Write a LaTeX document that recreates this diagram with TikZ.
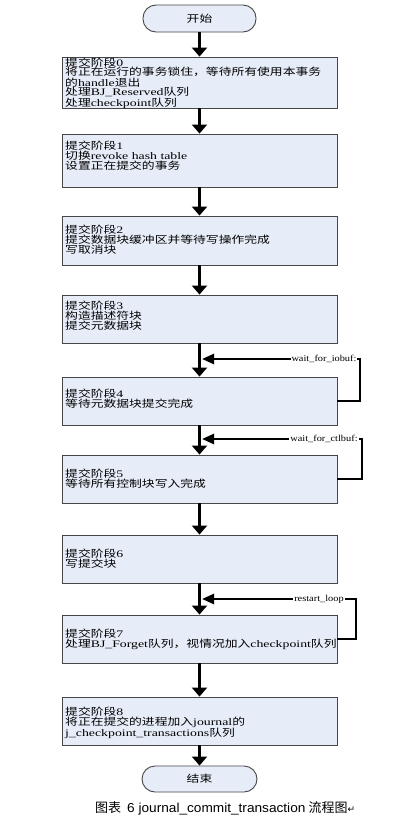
\documentclass[tikz,border=0pt]{standalone}
\usepackage{fontspec}
\setmainfont{Liberation Serif}
\newfontfamily\cjk[FakeStretch=1.28]{Noto Sans CJK SC}
\newfontfamily\lat[FakeStretch=1.38]{Liberation Serif}
\newfontfamily\lblfont[FakeStretch=1.15]{Liberation Serif}
\newfontfamily\capsans[FakeStretch=1.05]{Liberation Sans}
\newfontfamily\capcjk{Noto Sans CJK SC}
\newfontfamily\symfont{DejaVu Sans}
\usetikzlibrary{arrows.meta}
\definecolor{boxfill}{RGB}{231,237,248}
\definecolor{boxline}{RGB}{70,70,70}
\newcommand\lt[1]{{\lat #1}}
\tikzset{
  stage/.style={draw=boxline, line width=0.9pt, fill=boxfill, inner sep=0pt, minimum width=275pt},
  term/.style={draw=boxline, line width=0.9pt, fill=boxfill, rounded corners=13pt, inner sep=0pt, font=\fontsize{10}{10}\cjk},
  txt/.style={anchor=north west, inner sep=0pt, align=left, font=\fontsize{10}{10}\cjk},
  flow/.style={line width=3.5pt, -{Triangle[width=15pt,length=9pt]}},
  looparrow/.style={line width=2.5pt, line join=miter, -{Triangle[width=10pt,length=12pt]}},
  lbl/.style={fill=white, inner sep=1pt, font=\fontsize{9}{9}\lblfont},
}
\begin{document}
\begin{tikzpicture}[x=1pt,y=-1pt]
\useasboundingbox (0,0) rectangle (405,817);
\fill[white] (0,0) rectangle (405,817);

% terminals and stages
\node[term, minimum width=113pt, minimum height=27pt] (start) at (199.5,18.5) {开始};
\node[stage, minimum height=51pt] (s0) at (199.5,82.5) {};
\node[stage, minimum height=53pt] (s1) at (199.5,160.5) {};
\node[stage, minimum height=49pt] (s2) at (199.5,240.5) {};
\node[stage, minimum height=48pt] (s3) at (199.5,319) {};
\node[stage, minimum height=48pt] (s4) at (199.5,401) {};
\node[stage, minimum height=48pt] (s5) at (199.5,479) {};
\node[stage, minimum height=48pt] (s6) at (199.5,559) {};
\node[stage, minimum height=48pt] (s7) at (199.5,639) {};
\node[stage, minimum height=48pt] (s8) at (199.5,721) {};
\node[term, minimum width=115pt, minimum height=26pt] (end) at (199.5,779) {结束};

% texts
\node[txt, font=\fontsize{10}{9.4}\cjk] (t0) at (65,57.7) {提交阶段\lt{0}\\将正在运行的事务锁住，等待所有使用本事务\\的\lt{handle}退出\\处理\lt{BJ\_Reserved}队列\\处理\lt{checkpoint}队列};
\node[txt] (t1) at (65,140.7) {提交阶段\lt{1}\\切换\lt{revoke hash table}\\设置正在提交的事务};
\node[txt] (t2) at (65,224.7) {提交阶段\lt{2}\\提交数据块缓冲区并等待写操作完成\\写取消块};
\node[txt] (t3) at (65,300.7) {提交阶段\lt{3}\\构造描述符块\\提交元数据块};
\node[txt] (t4) at (65,388.7) {提交阶段\lt{4}\\等待元数据块提交完成};
\node[txt] (t5) at (65,468.7) {提交阶段\lt{5}\\等待所有控制块写入完成};
\node[txt] (t6) at (65,548.7) {提交阶段\lt{6}\\写提交块};
\node[txt] (t7) at (65,628.7) {提交阶段\lt{7}\\处理\lt{BJ\_Forget}队列，视情况加入\lt{checkpoint}队列};
\node[txt] (t8) at (65,706.7) {提交阶段\lt{8}\\将正在提交的进程加入\lt{journal}的\\\lt{j\_checkpoint\_transactions}队列};

% main flow
\draw[flow] (start) -- (s0);
\draw[flow] (s0) -- (s1);
\draw[flow] (s1) -- (s2);
\draw[flow] (s2) -- (s3);
\draw[flow] (s3) -- (s4);
\draw[flow] (s4) -- (s5);
\draw[flow] (s5) -- (s6);
\draw[flow] (s6) -- (s7);
\draw[flow] (s7) -- (s8);
\draw[flow] (s8) -- (end);

% loops
\coordinate (c1) at (360,359);
\coordinate (a1) at (202,359);
\draw[looparrow] (s4.east) -| (c1) -- (a1);
\node[lbl] (l1) at (324,359) {wait\_for\_iobuf:};

\coordinate (c2) at (362,439);
\coordinate (a2) at (202,439);
\draw[looparrow] (s5.east) -| (c2) -- (a2);
\node[lbl] (l2) at (324,439) {wait\_for\_ctlbuf:};

\coordinate (c3) at (356,599);
\coordinate (a3) at (202,599);
\draw[looparrow] (s7.east) -| (c3) -- (a3);
\node[lbl] (l3) at (319,599) {restart\_loop};

% caption
\node[anchor=base west, inner sep=0pt, font=\fontsize{13}{13}\selectfont] (cap) at (95,812) {{\capcjk 图表}\hspace{6pt}{\capsans 6 journal\_commit\_transaction} {\capcjk 流程图}{\symfont\fontsize{9}{9}\selectfont ↵}};
\end{tikzpicture}
\end{document}
